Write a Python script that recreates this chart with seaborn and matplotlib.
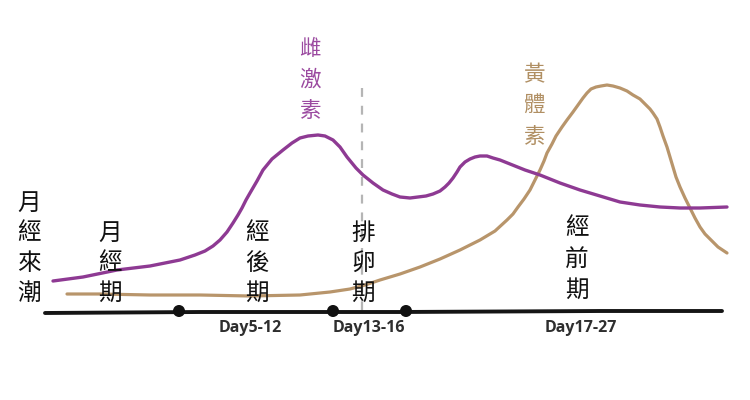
import pandas as pd
import matplotlib
matplotlib.use("Agg")
import matplotlib.pyplot as plt
import seaborn as sns

# curves (x, y in image units, y grows downwards)
estrogen_x = [53, 83, 117, 150, 180, 195, 205, 213, 220, 227, 233, 238, 242, 246, 250, 257, 263, 272, 283, 292,
              300, 308, 318, 325, 333, 340, 347, 356, 363, 373, 383, 392, 400, 410, 418, 426, 433, 440, 445, 449,
              453, 457, 460, 465, 470, 475, 480, 487, 493, 500, 510, 525, 540, 560, 580, 600, 620, 640, 660, 680,
              700, 727]
estrogen_y = [281, 277, 270, 266, 260, 255, 251, 246, 240, 232, 223, 215, 208, 200, 193, 181, 170, 159, 150, 143,
              138, 136, 135, 136, 140, 147, 157, 168, 175, 183, 190, 194, 197, 198, 197, 196, 194, 191, 187, 183,
              178, 172, 167, 162, 159, 157, 156, 156, 158, 160, 164, 170, 175, 183, 190, 196, 202, 205, 207, 208,
              208, 207]

progesterone_x = [67, 100, 150, 200, 250, 300, 330, 350, 365, 380, 400, 420, 440, 460, 480, 495, 507, 513, 518,
                  524, 530, 535, 540, 544, 547, 552, 556, 562, 567, 573, 578, 583, 587, 591, 596, 601, 607, 613,
                  620, 627, 633, 640, 645, 650, 653, 657, 660, 663, 667, 670, 673, 676, 680, 685, 690, 695, 700,
                  705, 712, 718, 727]
progesterone_y = [294, 294, 295, 295, 296, 295, 292, 289, 285, 280, 274, 267, 259, 250, 240, 231, 220, 214, 207,
                  199, 190, 180, 170, 161, 153, 144, 136, 127, 120, 112, 105, 98, 93, 89, 87, 86, 85, 86,
                  88, 91, 95, 99, 104, 109, 113, 119, 127, 136, 147, 157, 167, 177, 187, 198, 208, 218, 227,
                  234, 241, 247, 253]

baseline_x = [45, 120, 200, 300, 400, 500, 600, 722]
baseline_y = [313, 312.5, 312, 312, 312, 311.5, 311, 311]
marker_x = [179, 333, 406]
marker_y = [311, 311, 311]
ovulation_x = 362

phase_labels = ["月經來潮", "月經期", "經後期", "排卵期", "經前期"]
day_labels = ["Day5-12", "Day13-16", "Day17-27"]
hormone_labels = ["雌激素", "黃體素"]

PURPLE = "#8e3a93"
TAN = "#b8956b"

sns.set_theme(style="white")
plt.rcParams["font.family"] = ["Noto Sans CJK TC", "DejaVu Sans"]

fig = plt.figure(figsize=(7.5, 4), dpi=100)
ax = fig.add_axes([0, 0, 1, 1])

est = pd.DataFrame({"x": estrogen_x, "y": estrogen_y})
prog = pd.DataFrame({"x": progesterone_x, "y": progesterone_y})
base = pd.DataFrame({"x": baseline_x, "y": baseline_y})

line_kw = dict(sort=False, solid_joinstyle="round", solid_capstyle="round", ax=ax)

ax.vlines(ovulation_x, 88, 311, colors="#b5b5b5", linestyles=(0, (4, 4)), linewidth=1.6, zorder=1)
sns.lineplot(data=prog, x="x", y="y", color=TAN, linewidth=2.3, zorder=2, **line_kw)
sns.lineplot(data=est, x="x", y="y", color=PURPLE, linewidth=2.4, zorder=3, **line_kw)
sns.lineplot(data=base, x="x", y="y", color="#151515", linewidth=2.8, zorder=4, **line_kw)
sns.scatterplot(x=marker_x, y=marker_y, color="#111111", s=75, edgecolor="none", ax=ax, zorder=5)


def vertical(text, x, y0, step, **kw):
    for i, ch in enumerate(text):
        ax.text(x, y0 + i * step, ch, ha="center", va="center", **kw)


vertical(phase_labels[0], 29, 203, 30, fontsize=17, color="#111111")
vertical(phase_labels[1], 110, 233, 30, fontsize=17, color="#111111")
vertical(phase_labels[2], 257, 233, 30, fontsize=17, color="#111111")
vertical(phase_labels[3], 363, 233, 30, fontsize=17, color="#111111")
vertical(phase_labels[4], 577, 228, 31, fontsize=17, color="#111111")

vertical(hormone_labels[0], 310, 49, 31, fontsize=15.5, color="#9b4aa0")
vertical(hormone_labels[1], 534, 75, 31, fontsize=15.5, color="#b08f63")

for lbl, x in zip(day_labels, [250, 369, 581]):
    ax.text(x, 328, lbl, ha="center", va="center", fontsize=11.5, fontweight="bold",
            color="#2e2e2e", family="Open Sans")

ax.set_xlim(0, 750)
ax.set_ylim(400, 0)
ax.axis("off")

fig.savefig("out.png", dpi=100, facecolor="white")
